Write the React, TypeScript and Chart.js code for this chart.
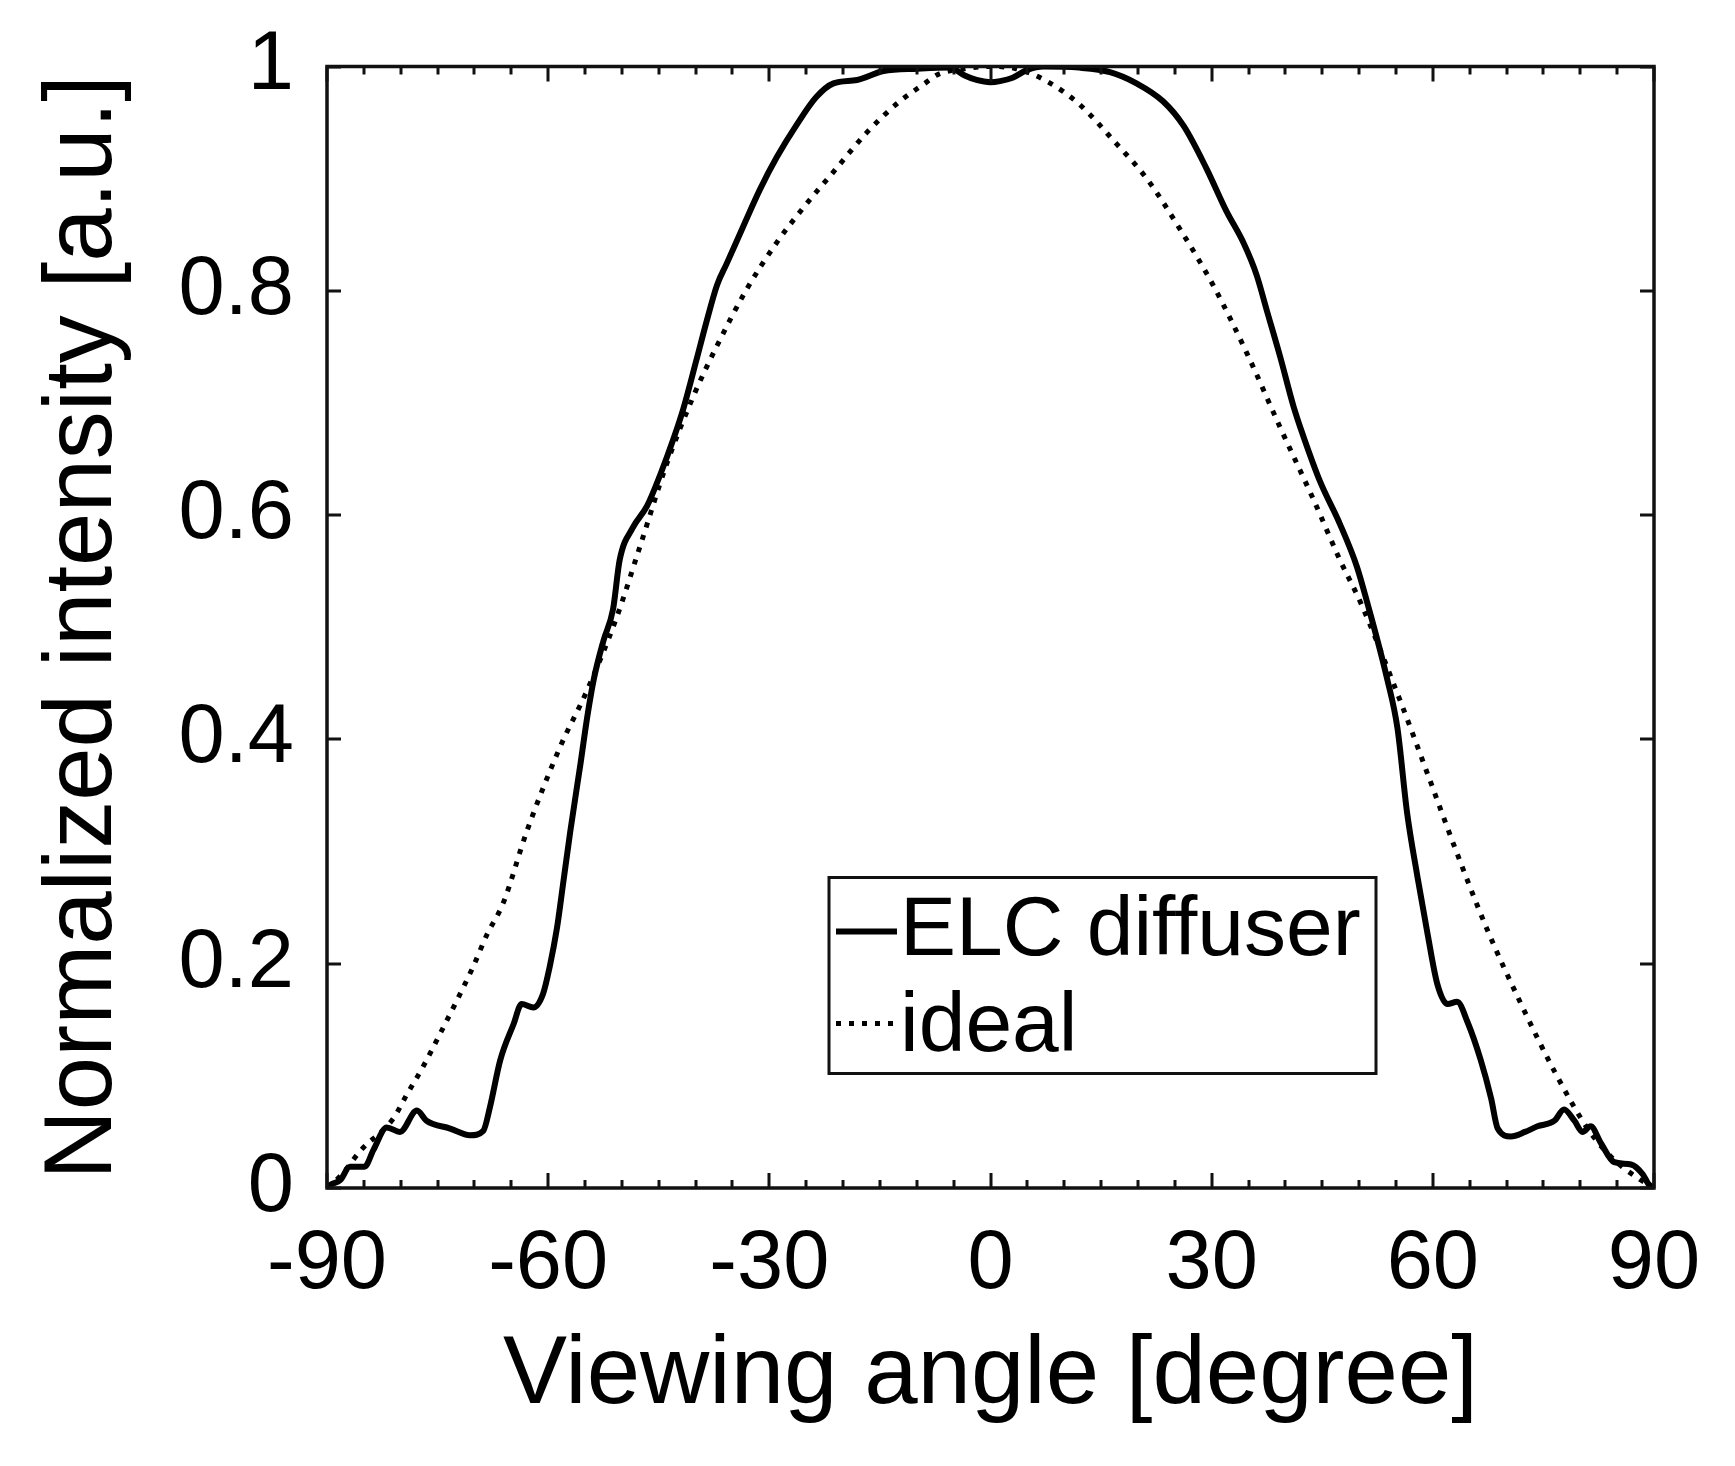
import React, { useEffect, useRef } from "react";
import { Chart, registerables } from "chart.js";

Chart.register(...registerables);

// ---- data ----
const elcAngles = [
  -90, -89.5, -88.2, -86.9, -84.9, -83.7, -81.9, -80.1, -77.8, -76.5, -73.3, -70.6, -68.8, -67.9,
  -66.5, -64.7, -63.6, -62.0, -60.7, -59.8, -58.8, -58.0, -57.0, -55.6, -54.7, -53.8, -52.5, -51.2,
  -50.3, -48.5, -46.6, -44.8, -43.0, -41.7, -39.9, -38.5, -37.1, -35.8, -33.5, -31.3, -29.0, -26.3,
  -23.6, -21.3, -18.1, -14.5, -9.9, -5.5, -3.5, -1.9, 0, 1.3, 3.0, 5.0, 7.2, 12.0, 16.2, 19.8, 23.4,
  26.2, 29.3, 32.0, 34.3, 36.1, 37.5, 39.3, 41.1, 42.4, 44.7, 47.4, 49.7, 51.1, 53.8, 55.2, 56.5,
  57.9, 59.3, 60.6, 62.0, 63.3, 64.7, 66.5, 67.9, 68.8, 70.6, 72.5, 74.2, 76.5, 77.8, 79.2, 80.3,
  81.4, 82.8, 84.6, 86.9, 88.5, 89.2, 90,
];
const elcValues = [
  0, 0.003, 0.007, 0.019, 0.019, 0.034, 0.054, 0.05, 0.069, 0.06, 0.053, 0.047, 0.051, 0.072,
  0.114, 0.146, 0.164, 0.161, 0.173, 0.197, 0.232, 0.27, 0.318, 0.379, 0.42, 0.454, 0.488, 0.516,
  0.56, 0.589, 0.608, 0.636, 0.668, 0.694, 0.738, 0.773, 0.805, 0.824, 0.858, 0.89, 0.919, 0.948,
  0.973, 0.985, 0.988, 0.996, 0.998, 0.999, 0.992, 0.988, 0.986, 0.987, 0.99, 0.997, 1.0, 0.999,
  0.995, 0.985, 0.969, 0.947, 0.909, 0.871, 0.843, 0.814, 0.782, 0.741, 0.697, 0.671, 0.63, 0.592,
  0.554, 0.522, 0.454, 0.41, 0.335, 0.278, 0.226, 0.182, 0.164, 0.166, 0.148, 0.114, 0.08, 0.053,
  0.046, 0.05, 0.055, 0.06, 0.07, 0.06, 0.05, 0.055, 0.04, 0.023, 0.021, 0.012, 0.004, 0,
];

const idealAngles = [
  -90, -88, -85.5, -81.0, -79.2, -76.9, -74.7, -72.4, -70.2, -68.3, -66.1, -62.9, -58.4, -54.7,
  -50.7, -47.5, -43.9, -40.3, -37.1, -33.1, -29.0, -25.4, -21.3, -16.8, -12.3, -9.1, -7.1, -3.5, 0,
  3.5, 7.6, 12.1, 17.1, 21.2, 25.7, 30.2, 34.8, 39.3, 43.8, 47.4, 50.2, 55.6, 59.3, 62.9, 67.4, 71.9,
  76.5, 81.0, 84.6, 88, 90,
];
const idealValues = [
  0, 0.012, 0.033, 0.062, 0.083, 0.109, 0.137, 0.167, 0.197, 0.226, 0.254, 0.318, 0.393, 0.444,
  0.509, 0.573, 0.646, 0.706, 0.751, 0.801, 0.843, 0.874, 0.906, 0.941, 0.969, 0.984, 0.993, 0.998,
  1.0, 0.998, 0.987, 0.966, 0.931, 0.9, 0.855, 0.805, 0.744, 0.678, 0.614, 0.56, 0.522, 0.434, 0.369,
  0.305, 0.23, 0.165, 0.104, 0.053, 0.025, 0.008, 0,
];

const seriesLabels = ["ELC diffuser", "ideal"];
const xTickStep = 30;
const yTickStep = 0.2;
const xAxisTitle = "Viewing angle [degree]";
const yAxisTitle = "Normalized intensity [a.u.]";

const FONT = "'Liberation Sans', Arial, Helvetica, sans-serif";

const framePlugin = {
  id: "frameTicks",
  afterDatasetsDraw(chart: any) {
    const { ctx, chartArea: ca, scales } = chart;
    const xs = scales.x;
    const ys = scales.y;
    ctx.save();
    ctx.strokeStyle = "#111";
    ctx.lineWidth = 3;
    ctx.lineCap = "butt";
    ctx.beginPath();
    for (let v = -90; v <= 90.001; v += 5) {
      const px = Math.round(xs.getPixelForValue(v));
      const major = Math.abs(v % 30) < 1e-6;
      const len = major ? 15 : 8;
      ctx.moveTo(px, ca.bottom);
      ctx.lineTo(px, ca.bottom - len);
      ctx.moveTo(px, ca.top);
      ctx.lineTo(px, ca.top + len);
    }
    for (let v = 0; v <= 1.0001; v += 0.2) {
      const py = Math.round(ys.getPixelForValue(v));
      ctx.moveTo(ca.left, py);
      ctx.lineTo(ca.left + 14, py);
      ctx.moveTo(ca.right, py);
      ctx.lineTo(ca.right - 14, py);
    }
    ctx.stroke();
    ctx.lineWidth = 3.5;
    ctx.strokeRect(ca.left, ca.top, ca.right - ca.left, ca.bottom - ca.top);
    ctx.restore();
  },
};

const legendPlugin = {
  id: "boxLegend",
  afterDraw(chart: any) {
    const { ctx, chartArea: ca } = chart;
    const boxL = ca.left + 502;
    const boxT = ca.top + 811;
    const boxW = 547;
    const boxH = 196;
    ctx.save();
    ctx.fillStyle = "#fff";
    ctx.fillRect(boxL, boxT, boxW, boxH);
    ctx.strokeStyle = "#111";
    ctx.lineWidth = 3;
    ctx.strokeRect(boxL, boxT, boxW, boxH);
    const rows = [boxT + 54, boxT + 150];
    chart.data.datasets.forEach((ds: any, i: number) => {
      const y = rows[i];
      ctx.strokeStyle = ds.borderColor;
      ctx.lineWidth = ds.borderWidth;
      ctx.lineCap = "butt";
      ctx.setLineDash(ds.borderDash || []);
      ctx.beginPath();
      ctx.moveTo(boxL + 7, i === 0 ? y : y - 4);
      ctx.lineTo(boxL + 68, i === 0 ? y : y - 4);
      ctx.stroke();
      ctx.setLineDash([]);
      ctx.fillStyle = "#000";
      ctx.font = `84px ${FONT}`;
      ctx.textBaseline = "middle";
      ctx.textAlign = "left";
      ctx.fillText(ds.label, boxL + 71, y);
    });
    ctx.restore();
  },
};

export default function App() {
  const ref = useRef<HTMLCanvasElement | null>(null);

  useEffect(() => {
    if (!ref.current) return;
    const chart = new Chart(ref.current, {
      type: "line",
      data: {
        datasets: [
          {
            label: seriesLabels[0],
            data: elcAngles.map((a, i) => ({ x: a, y: elcValues[i] })),
            borderColor: "#000",
            borderWidth: 6,
            pointRadius: 0,
            cubicInterpolationMode: "monotone",
            fill: false,
          },
          {
            label: seriesLabels[1],
            data: idealAngles.map((a, i) => ({ x: a, y: idealValues[i] })),
            borderColor: "#000",
            borderWidth: 5,
            borderDash: [5, 8],
            borderCapStyle: "butt",
            pointRadius: 0,
            cubicInterpolationMode: "monotone",
            fill: false,
          },
        ],
      },
      options: {
        animation: false,
        responsive: false,
        devicePixelRatio: 1,
        layout: { padding: { left: 0, top: 62, right: 81, bottom: 0 } },
        plugins: {
          legend: { display: false },
          tooltip: { enabled: false },
        },
        scales: {
          x: {
            type: "linear",
            min: -90,
            max: 90,
            grid: { display: false },
            border: { display: false },
            ticks: {
              stepSize: xTickStep,
              autoSkip: false,
              maxRotation: 0,
              color: "#000",
              padding: 28,
              font: { family: FONT, size: 83, lineHeight: 1 },
              callback: (v: any) => String(v),
            },
            title: {
              display: true,
              text: xAxisTitle,
              color: "#000",
              font: { family: FONT, size: 96, lineHeight: 1 },
              padding: { top: 0, bottom: 41 },
            },
            afterFit: (s: any) => {
              s.height = 278;
            },
          },
          y: {
            type: "linear",
            min: 0,
            max: 1,
            grid: { display: false },
            border: { display: false },
            ticks: {
              stepSize: yTickStep,
              color: "#000",
              padding: 25,
              font: { family: FONT, size: 83, lineHeight: 1 },
              callback: (v: any) => String(Number(Number(v).toFixed(1))),
            },
            title: {
              display: true,
              text: yAxisTitle,
              color: "#000",
              font: { family: FONT, size: 96, lineHeight: 1 },
              padding: { top: 37, bottom: 0 },
            },
            afterFit: (s: any) => {
              s.width = 327;
            },
          },
        },
      },
      plugins: [framePlugin, legendPlugin],
    } as any);
    return () => chart.destroy();
  }, []);

  return (
    <div style={{ position: "absolute", left: 0, top: 0, width: 1735, height: 1466, background: "#fff" }}>
      <canvas ref={ref} width={1735} height={1466} style={{ display: "block", width: 1735, height: 1466 }} />
    </div>
  );
}
